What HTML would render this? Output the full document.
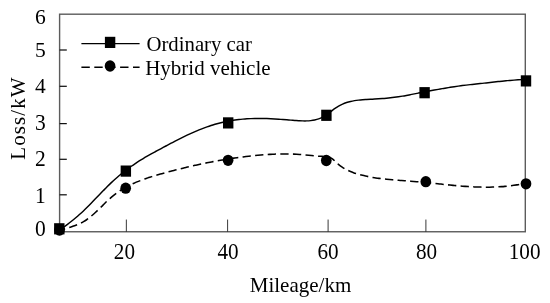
<!DOCTYPE html>
<html><head><meta charset="utf-8"><title>Loss vs Mileage</title>
<style>
html,body{margin:0;padding:0;background:#fff;}
body{width:550px;height:303px;overflow:hidden;}
svg{display:block;}
text{font-family:"Liberation Serif","Times New Roman",serif;fill:#000;}
</style></head><body>
<svg width="550" height="303" viewBox="0 0 550 303">
<rect width="550" height="303" fill="#fff"/>
<rect x="59.60" y="14.20" width="465.70" height="217.55" fill="none" stroke="#5c5c5c" stroke-width="1.4"/>
<line x1="59.60" y1="50.00" x2="66.80" y2="50.00" stroke="#111" stroke-width="1.25"/>
<line x1="59.60" y1="86.30" x2="66.80" y2="86.30" stroke="#111" stroke-width="1.25"/>
<line x1="59.60" y1="123.60" x2="66.80" y2="123.60" stroke="#111" stroke-width="1.25"/>
<line x1="59.60" y1="159.30" x2="66.80" y2="159.30" stroke="#111" stroke-width="1.25"/>
<line x1="59.60" y1="194.80" x2="66.80" y2="194.80" stroke="#111" stroke-width="1.25"/>
<line x1="126.35" y1="231.75" x2="126.35" y2="219.55" stroke="#222" stroke-width="0.9"/>
<line x1="227.60" y1="231.75" x2="227.60" y2="219.55" stroke="#222" stroke-width="0.9"/>
<line x1="328.10" y1="231.75" x2="328.10" y2="219.55" stroke="#222" stroke-width="0.9"/>
<line x1="425.90" y1="231.75" x2="425.90" y2="219.55" stroke="#222" stroke-width="0.9"/>
<path d="M59.50 230.31 C60.16 229.83 62.16 228.41 63.49 227.43 C64.82 226.45 66.15 225.44 67.47 224.41 C68.80 223.39 70.13 222.35 71.46 221.28 C72.79 220.21 74.12 219.13 75.45 218.01 C76.78 216.89 78.11 215.75 79.44 214.57 C80.76 213.39 82.09 212.18 83.42 210.93 C84.75 209.68 86.08 208.38 87.41 207.06 C88.74 205.75 90.07 204.39 91.40 203.02 C92.73 201.66 94.06 200.26 95.38 198.87 C96.71 197.49 98.04 196.10 99.37 194.71 C100.70 193.33 102.03 191.93 103.36 190.56 C104.69 189.20 106.02 187.83 107.35 186.51 C108.68 185.20 110.00 183.91 111.33 182.65 C112.66 181.39 113.99 180.16 115.32 178.97 C116.65 177.77 117.98 176.60 119.31 175.47 C120.64 174.35 121.97 173.25 123.29 172.20 C124.62 171.14 125.95 170.12 127.28 169.13 C128.61 168.14 129.94 167.18 131.27 166.25 C132.60 165.32 133.93 164.42 135.26 163.54 C136.59 162.66 137.91 161.80 139.24 160.97 C140.57 160.14 141.90 159.32 143.23 158.53 C144.56 157.73 145.89 156.96 147.22 156.19 C148.55 155.43 149.88 154.68 151.21 153.94 C152.53 153.20 153.86 152.47 155.19 151.74 C156.52 151.02 157.85 150.31 159.18 149.59 C160.51 148.88 161.84 148.17 163.17 147.46 C164.50 146.75 165.82 146.04 167.15 145.34 C168.48 144.63 169.81 143.93 171.14 143.23 C172.47 142.54 173.80 141.84 175.13 141.16 C176.46 140.47 177.79 139.79 179.12 139.12 C180.44 138.45 181.77 137.79 183.10 137.14 C184.43 136.49 185.76 135.85 187.09 135.22 C188.42 134.59 189.75 133.97 191.08 133.36 C192.41 132.76 193.74 132.17 195.06 131.59 C196.39 131.02 197.72 130.45 199.05 129.91 C200.38 129.37 201.71 128.84 203.04 128.33 C204.37 127.82 205.70 127.33 207.03 126.86 C208.35 126.40 209.68 125.95 211.01 125.52 C212.34 125.09 213.67 124.69 215.00 124.30 C216.33 123.92 217.66 123.56 218.99 123.22 C220.32 122.87 221.65 122.55 222.97 122.25 C224.30 121.95 225.63 121.67 226.96 121.41 C228.29 121.15 229.62 120.90 230.95 120.68 C232.28 120.46 233.61 120.25 234.94 120.06 C236.26 119.87 237.59 119.70 238.92 119.55 C240.25 119.39 241.58 119.26 242.91 119.14 C244.24 119.02 245.57 118.91 246.90 118.82 C248.23 118.73 249.56 118.66 250.88 118.60 C252.21 118.54 253.54 118.50 254.87 118.47 C256.20 118.44 257.53 118.42 258.86 118.42 C260.19 118.42 261.52 118.43 262.85 118.45 C264.18 118.47 265.50 118.51 266.83 118.56 C268.16 118.60 269.49 118.66 270.82 118.73 C272.15 118.79 273.48 118.87 274.81 118.95 C276.14 119.04 277.47 119.13 278.79 119.22 C280.12 119.32 281.45 119.42 282.78 119.52 C284.11 119.62 285.44 119.72 286.77 119.83 C288.10 119.93 289.43 120.04 290.76 120.14 C292.09 120.24 293.41 120.34 294.74 120.44 C296.07 120.53 297.40 120.63 298.73 120.71 C300.06 120.78 301.39 120.86 302.72 120.89 C304.05 120.92 305.38 120.94 306.71 120.89 C308.03 120.85 309.36 120.77 310.69 120.62 C312.02 120.46 313.35 120.27 314.68 119.97 C316.01 119.68 317.34 119.34 318.67 118.86 C320.00 118.38 321.32 117.78 322.65 117.10 C323.98 116.42 325.31 115.66 326.64 114.77 C327.97 113.87 329.30 112.75 330.63 111.73 C331.96 110.71 333.29 109.58 334.62 108.64 C335.94 107.70 337.27 106.84 338.60 106.08 C339.93 105.32 341.26 104.67 342.59 104.08 C343.92 103.49 345.25 103.00 346.58 102.56 C347.91 102.11 349.24 101.75 350.56 101.43 C351.89 101.11 353.22 100.86 354.55 100.64 C355.88 100.42 357.21 100.26 358.54 100.12 C359.87 99.97 361.20 99.87 362.53 99.78 C363.85 99.68 365.18 99.61 366.51 99.53 C367.84 99.45 369.17 99.38 370.50 99.31 C371.83 99.23 373.16 99.15 374.49 99.07 C375.82 98.99 377.15 98.90 378.47 98.81 C379.80 98.72 381.13 98.62 382.46 98.51 C383.79 98.41 385.12 98.29 386.45 98.17 C387.78 98.05 389.11 97.92 390.44 97.77 C391.76 97.63 393.09 97.47 394.42 97.30 C395.75 97.14 397.08 96.96 398.41 96.76 C399.74 96.56 401.07 96.35 402.40 96.13 C403.73 95.91 405.06 95.67 406.38 95.43 C407.71 95.18 409.04 94.93 410.37 94.67 C411.70 94.41 413.03 94.15 414.36 93.88 C415.69 93.62 417.02 93.35 418.35 93.08 C419.68 92.82 421.00 92.56 422.33 92.30 C423.66 92.04 424.99 91.78 426.32 91.53 C427.65 91.27 428.98 91.02 430.31 90.78 C431.64 90.53 432.97 90.29 434.29 90.05 C435.62 89.81 436.95 89.57 438.28 89.34 C439.61 89.11 440.94 88.88 442.27 88.65 C443.60 88.43 444.93 88.20 446.26 87.99 C447.59 87.77 448.91 87.55 450.24 87.34 C451.57 87.13 452.90 86.92 454.23 86.72 C455.56 86.52 456.89 86.32 458.22 86.13 C459.55 85.94 460.88 85.77 462.21 85.59 C463.53 85.42 464.86 85.26 466.19 85.10 C467.52 84.94 468.85 84.79 470.18 84.64 C471.51 84.49 472.84 84.35 474.17 84.20 C475.50 84.06 476.82 83.92 478.15 83.77 C479.48 83.63 480.81 83.49 482.14 83.35 C483.47 83.21 484.80 83.06 486.13 82.92 C487.46 82.77 488.79 82.62 490.12 82.47 C491.44 82.33 492.77 82.18 494.10 82.03 C495.43 81.88 496.76 81.73 498.09 81.59 C499.42 81.45 500.75 81.30 502.08 81.17 C503.41 81.03 504.74 80.90 506.06 80.77 C507.39 80.65 508.72 80.52 510.05 80.41 C511.38 80.30 512.71 80.19 514.04 80.10 C515.37 80.00 516.70 79.91 518.03 79.84 C519.35 79.76 520.68 79.70 522.01 79.64 C523.34 79.58 525.34 79.51 526.00 79.48" fill="none" stroke="#000" stroke-width="1.45"/>
<path d="M59.50 230.30 C60.00 230.16 61.51 229.75 62.51 229.47 C63.51 229.19 64.52 228.92 65.52 228.63 C66.52 228.34 67.52 228.05 68.53 227.74 C69.53 227.44 70.53 227.12 71.54 226.79 C72.54 226.45 73.54 226.12 74.55 225.75 C75.55 225.39 76.55 225.01 77.55 224.59 C78.56 224.17 79.56 223.73 80.56 223.24 C81.57 222.75 82.57 222.23 83.57 221.64 C84.58 221.06 85.58 220.43 86.58 219.74 C87.58 219.05 88.59 218.29 89.59 217.50 C90.59 216.71 91.60 215.86 92.60 214.99 C93.60 214.12 94.61 213.20 95.61 212.27 C96.61 211.34 97.62 210.38 98.62 209.41 C99.62 208.45 100.62 207.46 101.63 206.48 C102.63 205.49 103.63 204.47 104.64 203.49 C105.64 202.50 106.64 201.51 107.65 200.56 C108.65 199.62 109.65 198.69 110.65 197.81 C111.66 196.93 112.66 196.10 113.66 195.30 C114.67 194.50 115.67 193.74 116.67 193.02 C117.68 192.29 118.68 191.60 119.68 190.93 C120.68 190.27 121.69 189.64 122.69 189.03 C123.69 188.42 125.20 187.58 125.70 187.29" fill="none" stroke="#000" stroke-width="1.55" stroke-dasharray="8.3 4.32" stroke-dashoffset="2.49"/>
<path d="M125.70 187.29 C126.20 187.02 127.71 186.20 128.71 185.69 C129.72 185.18 130.72 184.70 131.72 184.23 C132.73 183.76 133.73 183.31 134.74 182.87 C135.74 182.44 136.74 182.02 137.75 181.61 C138.75 181.21 139.75 180.82 140.76 180.44 C141.76 180.05 142.77 179.69 143.77 179.32 C144.77 178.96 145.78 178.61 146.78 178.27 C147.79 177.93 148.79 177.59 149.79 177.27 C150.80 176.94 151.80 176.62 152.81 176.31 C153.81 176.00 154.81 175.69 155.82 175.39 C156.82 175.09 157.83 174.80 158.83 174.51 C159.83 174.22 160.84 173.94 161.84 173.65 C162.85 173.37 163.85 173.09 164.85 172.82 C165.86 172.54 166.86 172.27 167.86 171.99 C168.87 171.72 169.87 171.45 170.88 171.19 C171.88 170.92 172.88 170.66 173.89 170.40 C174.89 170.14 175.90 169.88 176.90 169.63 C177.90 169.37 178.91 169.12 179.91 168.87 C180.92 168.62 181.92 168.37 182.92 168.13 C183.93 167.88 184.93 167.64 185.94 167.40 C186.94 167.16 187.94 166.93 188.95 166.69 C189.95 166.46 190.95 166.23 191.96 166.00 C192.96 165.77 193.97 165.55 194.97 165.33 C195.97 165.10 196.98 164.89 197.98 164.67 C198.99 164.45 199.99 164.24 200.99 164.03 C202.00 163.82 203.00 163.61 204.01 163.40 C205.01 163.20 206.01 162.99 207.02 162.79 C208.02 162.59 209.03 162.40 210.03 162.20 C211.03 162.01 212.04 161.82 213.04 161.63 C214.05 161.44 215.05 161.26 216.05 161.07 C217.06 160.89 218.06 160.71 219.06 160.54 C220.07 160.36 221.07 160.19 222.08 160.01 C223.08 159.84 224.08 159.68 225.09 159.51 C226.09 159.35 227.60 159.11 228.10 159.03" fill="none" stroke="#000" stroke-width="1.55" stroke-dasharray="8.3 4.32" stroke-dashoffset="4.83"/>
<path d="M228.10 159.03 C228.60 158.95 230.09 158.71 231.08 158.56 C232.07 158.41 233.06 158.26 234.06 158.12 C235.05 157.97 236.04 157.83 237.04 157.69 C238.03 157.56 239.02 157.42 240.02 157.29 C241.01 157.15 242.00 157.03 242.99 156.90 C243.99 156.77 244.98 156.65 245.97 156.53 C246.97 156.41 247.96 156.30 248.95 156.18 C249.94 156.07 250.94 155.96 251.93 155.85 C252.92 155.75 253.92 155.65 254.91 155.55 C255.90 155.45 256.89 155.35 257.89 155.26 C258.88 155.17 259.87 155.08 260.87 155.00 C261.86 154.92 262.85 154.84 263.85 154.76 C264.84 154.69 265.83 154.62 266.82 154.55 C267.82 154.49 268.81 154.43 269.80 154.37 C270.80 154.32 271.79 154.27 272.78 154.22 C273.77 154.18 274.77 154.14 275.76 154.10 C276.75 154.07 277.75 154.04 278.74 154.02 C279.73 153.99 280.73 153.97 281.72 153.96 C282.71 153.95 283.70 153.95 284.70 153.95 C285.69 153.95 286.68 153.95 287.68 153.96 C288.67 153.98 289.66 153.99 290.65 154.02 C291.65 154.05 292.64 154.08 293.63 154.11 C294.63 154.15 295.62 154.20 296.61 154.25 C297.61 154.30 298.60 154.36 299.59 154.43 C300.58 154.49 301.58 154.56 302.57 154.64 C303.56 154.72 304.56 154.81 305.55 154.90 C306.54 155.00 307.53 155.10 308.53 155.21 C309.52 155.31 310.51 155.42 311.51 155.52 C312.50 155.63 313.49 155.73 314.48 155.83 C315.48 155.92 316.47 156.02 317.46 156.10 C318.46 156.18 319.45 156.25 320.44 156.30 C321.44 156.35 322.43 156.37 323.42 156.41 C324.41 156.44 325.90 156.50 326.40 156.51" fill="none" stroke="#000" stroke-width="1.55" stroke-dasharray="8.3 4.32" stroke-dashoffset="10.61"/>
<path d="M326.40 156.51 C326.90 156.62 328.41 156.76 329.41 157.15 C330.41 157.55 331.42 158.15 332.42 158.88 C333.42 159.61 334.43 160.64 335.43 161.56 C336.44 162.47 337.44 163.53 338.44 164.39 C339.45 165.25 340.45 166.02 341.45 166.72 C342.46 167.42 343.46 168.03 344.46 168.61 C345.47 169.19 346.47 169.71 347.47 170.19 C348.48 170.68 349.48 171.12 350.48 171.53 C351.49 171.94 352.49 172.31 353.50 172.67 C354.50 173.02 355.50 173.34 356.51 173.66 C357.51 173.97 358.51 174.26 359.52 174.54 C360.52 174.82 361.52 175.09 362.53 175.34 C363.53 175.59 364.53 175.82 365.54 176.05 C366.54 176.27 367.54 176.48 368.55 176.68 C369.55 176.88 370.56 177.06 371.56 177.24 C372.56 177.42 373.57 177.58 374.57 177.74 C375.57 177.90 376.58 178.04 377.58 178.18 C378.58 178.32 379.59 178.45 380.59 178.58 C381.59 178.70 382.60 178.82 383.60 178.93 C384.61 179.04 385.61 179.15 386.61 179.25 C387.62 179.35 388.62 179.45 389.62 179.54 C390.63 179.64 391.63 179.72 392.63 179.81 C393.64 179.90 394.64 179.98 395.64 180.06 C396.65 180.14 397.65 180.22 398.65 180.29 C399.66 180.37 400.66 180.44 401.67 180.52 C402.67 180.59 403.67 180.66 404.68 180.74 C405.68 180.81 406.68 180.88 407.69 180.96 C408.69 181.03 409.69 181.10 410.70 181.18 C411.70 181.25 412.70 181.33 413.71 181.41 C414.71 181.49 415.71 181.57 416.72 181.65 C417.72 181.73 418.73 181.82 419.73 181.91 C420.73 182.00 421.74 182.09 422.74 182.19 C423.74 182.28 425.25 182.43 425.75 182.48" fill="none" stroke="#000" stroke-width="1.55" stroke-dasharray="8.3 4.32" stroke-dashoffset="11.51"/>
<path d="M425.75 182.48 C426.26 182.54 427.78 182.69 428.79 182.79 C429.80 182.90 430.81 183.01 431.83 183.11 C432.84 183.22 433.85 183.33 434.86 183.44 C435.88 183.55 436.89 183.66 437.90 183.77 C438.91 183.88 439.93 183.99 440.94 184.10 C441.95 184.21 442.96 184.32 443.98 184.43 C444.99 184.54 446.00 184.64 447.02 184.75 C448.03 184.86 449.04 184.96 450.05 185.06 C451.07 185.16 452.08 185.26 453.09 185.36 C454.10 185.46 455.12 185.55 456.13 185.64 C457.14 185.74 458.15 185.82 459.17 185.91 C460.18 185.99 461.19 186.08 462.20 186.16 C463.22 186.23 464.23 186.31 465.24 186.38 C466.26 186.45 467.27 186.52 468.28 186.58 C469.29 186.64 470.31 186.70 471.32 186.75 C472.33 186.81 473.34 186.86 474.36 186.90 C475.37 186.95 476.38 186.98 477.39 187.02 C478.41 187.05 479.42 187.08 480.43 187.10 C481.44 187.13 482.46 187.14 483.47 187.15 C484.48 187.17 485.49 187.17 486.51 187.17 C487.52 187.17 488.53 187.16 489.55 187.15 C490.56 187.13 491.57 187.11 492.58 187.08 C493.60 187.05 494.61 187.02 495.62 186.98 C496.63 186.94 497.65 186.89 498.66 186.83 C499.67 186.77 500.68 186.71 501.70 186.63 C502.71 186.56 503.72 186.48 504.73 186.39 C505.75 186.30 506.76 186.20 507.77 186.09 C508.79 185.99 509.80 185.87 510.81 185.75 C511.82 185.62 512.84 185.49 513.85 185.35 C514.86 185.20 515.87 185.05 516.89 184.89 C517.90 184.73 518.91 184.56 519.92 184.37 C520.94 184.19 521.95 184.00 522.96 183.80 C523.97 183.59 525.49 183.26 526.00 183.16" fill="none" stroke="#000" stroke-width="1.55" stroke-dasharray="8.3 4.32" stroke-dashoffset="2.83"/>
<line x1="81.4" y1="43.7" x2="139.6" y2="43.7" stroke="#000" stroke-width="1.3"/>
<line x1="81.4" y1="67.2" x2="139.6" y2="67.2" stroke="#000" stroke-width="1.5" stroke-dasharray="8.4 4.5"/>
<ellipse cx="59.50" cy="230.00" rx="5.35" ry="5.65" fill="#000"/>
<ellipse cx="125.70" cy="188.20" rx="5.35" ry="5.65" fill="#000"/>
<ellipse cx="228.10" cy="160.30" rx="5.35" ry="5.65" fill="#000"/>
<ellipse cx="326.30" cy="160.50" rx="5.35" ry="5.65" fill="#000"/>
<ellipse cx="425.80" cy="181.70" rx="5.35" ry="5.65" fill="#000"/>
<ellipse cx="526.00" cy="183.80" rx="5.35" ry="5.65" fill="#000"/>
<ellipse cx="110.05" cy="66.00" rx="5.35" ry="5.65" fill="#000"/>
<rect x="54.10" y="223.20" width="10.4" height="11.2" fill="#000"/>
<rect x="120.65" y="165.50" width="10.4" height="11.2" fill="#000"/>
<rect x="223.00" y="117.30" width="10.4" height="11.2" fill="#000"/>
<rect x="321.20" y="109.70" width="10.4" height="11.2" fill="#000"/>
<rect x="419.40" y="87.10" width="10.4" height="11.2" fill="#000"/>
<rect x="520.80" y="75.30" width="10.4" height="11.2" fill="#000"/>
<rect x="104.90" y="36.80" width="10.4" height="11.2" fill="#000"/>
<text transform="translate(40.3 24.20) scale(1 1.00)" font-size="21.5" text-anchor="middle">6</text>
<text transform="translate(40.3 57.30) scale(1 1.00)" font-size="21.5" text-anchor="middle">5</text>
<text transform="translate(40.3 93.20) scale(1 1.00)" font-size="21.5" text-anchor="middle">4</text>
<text transform="translate(40.3 129.90) scale(1 1.04)" font-size="21.5" text-anchor="middle">3</text>
<text transform="translate(40.3 166.10) scale(1 1.04)" font-size="21.5" text-anchor="middle">2</text>
<text transform="translate(40.3 202.60) scale(1 1.04)" font-size="21.5" text-anchor="middle">1</text>
<text transform="translate(40.3 236.40) scale(1 1.04)" font-size="21.5" text-anchor="middle">0</text>
<text transform="translate(124.40 259.2) scale(0.985 1.07)" font-size="21.5" text-anchor="middle">20</text>
<text transform="translate(228.00 259.2) scale(0.985 1.07)" font-size="21.5" text-anchor="middle">40</text>
<text transform="translate(328.10 259.2) scale(0.985 1.07)" font-size="21.5" text-anchor="middle">60</text>
<text transform="translate(426.60 259.2) scale(0.985 1.07)" font-size="21.5" text-anchor="middle">80</text>
<text transform="translate(524.60 259.2) scale(0.985 1.07)" font-size="21.5" text-anchor="middle">100</text>
<text x="300.5" y="291.9" font-size="21" text-anchor="middle">Mileage/km</text>
<text transform="translate(24.6 118.0) rotate(-90)" font-size="21" text-anchor="middle" letter-spacing="1.1">Loss/kW</text>
<text x="146.4" y="51.0" font-size="21" textLength="105.6" lengthAdjust="spacingAndGlyphs">Ordinary car</text>
<text x="145.2" y="74.9" font-size="21">Hybrid vehicle</text>
</svg></body></html>
